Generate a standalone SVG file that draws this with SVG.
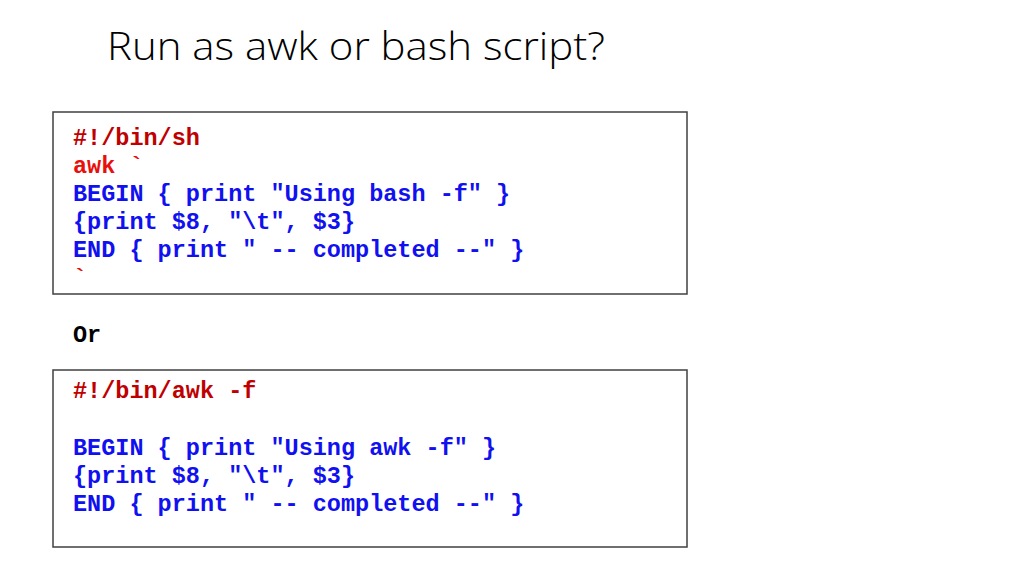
<svg xmlns="http://www.w3.org/2000/svg" width="1024" height="576" viewBox="0 0 1024 576">
<style>
.title{font-family:"Open Sans","Liberation Sans",sans-serif;font-weight:300;font-size:39px;fill:#000}
.code{font-family:"Liberation Mono","Courier New",monospace;font-weight:bold;font-size:23.5px}
.box{fill:#fff;stroke:#404040;stroke-width:1.5}
.dr{fill:#C00000}
.r{fill:#E8100C}
.b{fill:#1010F0}
.k{fill:#000}
</style>
<rect width="1024" height="576" fill="#fff"/>
<text class="title" x="107" y="60" textLength="498" lengthAdjust="spacingAndGlyphs">Run as awk or bash script?</text>
<g id="box1">
<rect class="box" x="53" y="112" width="634" height="182"/>
<text class="code dr" x="73" y="145">#!/bin/sh</text>
<text class="code r" x="73" y="173" xml:space="preserve">awk `</text>
<text class="code b" x="73" y="201">BEGIN { print "Using bash -f" }</text>
<text class="code b" x="73" y="229">{print $8, "\t", $3}</text>
<text class="code b" x="73" y="257">END { print " -- completed --" }</text>
<text class="code r" x="73" y="285">`</text>
</g>
<g id="or">
<text class="code k" x="73" y="342">Or</text>
</g>
<g id="box2">
<rect class="box" x="53" y="370" width="634" height="177"/>
<text class="code dr" x="73" y="398">#!/bin/awk -f</text>
<text class="code b" x="73" y="455">BEGIN { print "Using awk -f" }</text>
<text class="code b" x="73" y="483">{print $8, "\t", $3}</text>
<text class="code b" x="73" y="511">END { print " -- completed --" }</text>
</g>
<g id="connectors"/>
</svg>
